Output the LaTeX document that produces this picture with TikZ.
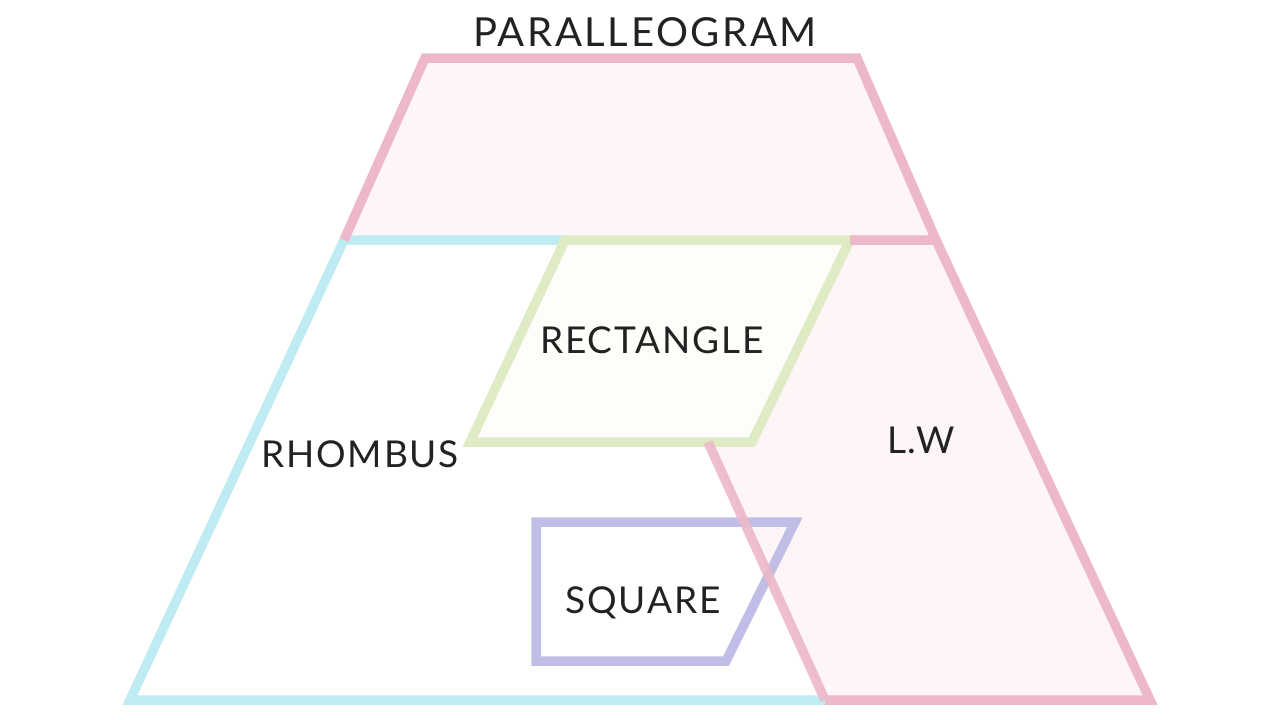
\documentclass[tikz,border=0pt]{standalone}
\usepackage{fontspec}
\setmainfont{Lato}
\definecolor{pinkline}{RGB}{237,184,201}
\definecolor{pinkfill}{RGB}{253,245,246}
\definecolor{cyanline}{RGB}{190,236,242}
\definecolor{greenline}{RGB}{223,235,197}
\definecolor{purpline}{RGB}{192,190,230}
\definecolor{greenfill}{RGB}{253,253,249}
\definecolor{txt}{RGB}{34,34,34}
\begin{document}
\begin{tikzpicture}[x=1pt,y=-1pt,
  edge/.style={line width=9.5pt, line join=miter, line cap=butt},
  lbl/.style={font=\fontsize{37}{40}\selectfont\addfontfeatures{LetterSpace=5}, text=txt, inner sep=0pt, anchor=base},
  titlelbl/.style={lbl, font=\fontsize{40}{44}\selectfont\addfontfeatures{LetterSpace=6.5}}]
\useasboundingbox (0,0) rectangle (1280,720);
% key points
\coordinate (TL) at (425,58);
\coordinate (TR) at (857,58);
\coordinate (ML) at (344,240);
\coordinate (MR) at (936,240);
\coordinate (BL) at (130,700);
\coordinate (BR) at (1150,700);
\coordinate (GTL) at (565,240);
\coordinate (GTR) at (850,240);
\coordinate (GBR) at (752,442);
\coordinate (GBL) at (470,442);
\coordinate (PL) at (708,442);
\coordinate (PB) at (825,700);
\coordinate (STL) at (536,522);
\coordinate (STR) at (795,522);
\coordinate (SBR) at (726,661);
\coordinate (SBL) at (536,661);
% fills
\fill[pinkfill] (TL) -- (TR) -- (MR) -- (ML) -- cycle;
\fill[greenfill] (GTL) -- (GTR) -- (GBR) -- (GBL) -- cycle;
\fill[pinkfill] (GTR) -- (MR) -- (BR) -- (PB) -- (PL) -- (GBR) -- cycle;
% rhombus outline
\draw[edge, cyanline] (GTL) -- (ML) -- (BL) -- (PB);
% rectangle outline
\draw[edge, greenline] (GTL) -- (GTR) -- (GBR) -- (GBL) -- cycle;
% square outline
\draw[edge, purpline] (STL) -- (STR) -- (SBR) -- (SBL) -- cycle;
% parallelogram outline
\draw[edge, pinkline] (ML) -- (TL) -- (TR) -- (MR) -- (GTR);
\draw[edge, pinkline] (MR) -- (BR) -- (PB);
\draw[edge, pinkline, opacity=0.9] (PB) -- (PL);
% labels
\node[titlelbl] (title) at (645,46) {PARALLEOGRAM};
\node[lbl] (rect) at (652,353) {RECTANGLE};
\node[lbl] (rhom) at (360,467) {RHOMBUS};
\node[lbl] (lw) at (921,453) {L.W};
\node[lbl] (sq) at (643,613) {SQUARE};
\end{tikzpicture}
\end{document}
